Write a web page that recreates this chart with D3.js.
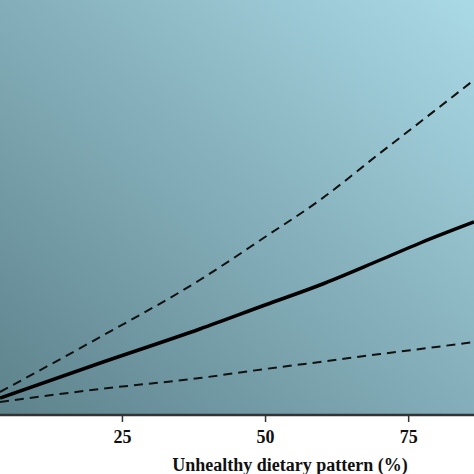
<!doctype html>
<html>
  <head>
    <script src="https://cdnjs.cloudflare.com/ajax/libs/d3/7.8.5/d3.min.js"></script>
    <style>
      body { margin: 0; background: #fff; }
    </style>
  </head>
  <body>
    <svg></svg>
    <script>
      var width = 474,
          height = 474;

      // unhealthy dietary pattern (%)
      var xs = [3.7, 21.2, 38.6, 50, 59.6, 70.1, 77.1, 86.5];
      // estimate and 95% CI
      var estimate = [1.02, 1.37, 1.71, 1.95, 2.15, 2.40, 2.57, 2.78];
      var upper    = [1.08, 1.63, 2.2, 2.63, 3.0, 3.47, 3.78, 4.2];
      var lower    = [0.98, 1.11, 1.22, 1.31, 1.38, 1.46, 1.51, 1.58];
      var xTicks = [25, 50, 75];

      var axisY = 415;

      var x = d3.scaleLinear().domain([3.7, 86.5]).range([0, width]);
      var y = d3.scaleLinear().domain([0.85, 5]).range([axisY, 0]);

      var svg = d3.select("svg").attr("width", width).attr("height", height);

      // background gradient
      var grad = svg.append("defs").append("linearGradient")
          .attr("id", "bg")
          .attr("x1", "0%").attr("y1", "100%")
          .attr("x2", "100%").attr("y2", "0%");
      grad.append("stop").attr("offset", "0%").attr("stop-color", "#5d828c");
      grad.append("stop").attr("offset", "100%").attr("stop-color", "#aadae6");

      svg.append("rect")
          .attr("x", 0).attr("y", 0)
          .attr("width", width).attr("height", axisY)
          .attr("fill", "url(#bg)");

      var line = d3.line()
          .x(function(d){ return x(d[0]); })
          .y(function(d){ return y(d[1]); })
          .curve(d3.curveMonotoneX);

      function pairs(vals) {
        return xs.map(function(v, i){ return [v, vals[i]]; });
      }

      svg.append("path").datum(pairs(upper))
          .attr("d", line)
          .attr("fill", "none")
          .attr("stroke", "#111")
          .attr("stroke-width", 2)
          .attr("stroke-dasharray", "9,6");

      svg.append("path").datum(pairs(lower))
          .attr("d", line)
          .attr("fill", "none")
          .attr("stroke", "#111")
          .attr("stroke-width", 2)
          .attr("stroke-dasharray", "9,6");

      svg.append("path").datum(pairs(estimate))
          .attr("d", line)
          .attr("fill", "none")
          .attr("stroke", "#000")
          .attr("stroke-width", 3.5);

      // x axis
      var xAxis = svg.append("g")
          .attr("transform", "translate(0," + axisY + ")")
          .call(d3.axisBottom(x).tickValues(xTicks).tickSize(7).tickPadding(8));
      xAxis.select(".domain").remove();
      xAxis.append("line")
          .attr("x1", 0).attr("x2", width)
          .attr("y1", 0).attr("y2", 0)
          .attr("stroke", "#333")
          .attr("stroke-width", 2.5);
      xAxis.selectAll(".tick line").attr("stroke", "#333").attr("stroke-width", 1.5);
      xAxis.selectAll(".tick text")
          .attr("fill", "#111")
          .style("font-family", "'Liberation Serif', serif")
          .style("font-weight", "bold")
          .style("font-size", "18px");

      svg.append("text")
          .attr("x", 290)
          .attr("y", 471)
          .attr("text-anchor", "middle")
          .attr("fill", "#111")
          .style("font-family", "'Liberation Serif', serif")
          .style("font-weight", "bold")
          .style("font-size", "18px")
          .text("Unhealthy dietary pattern (%)");
    </script>
  </body>
</html>
